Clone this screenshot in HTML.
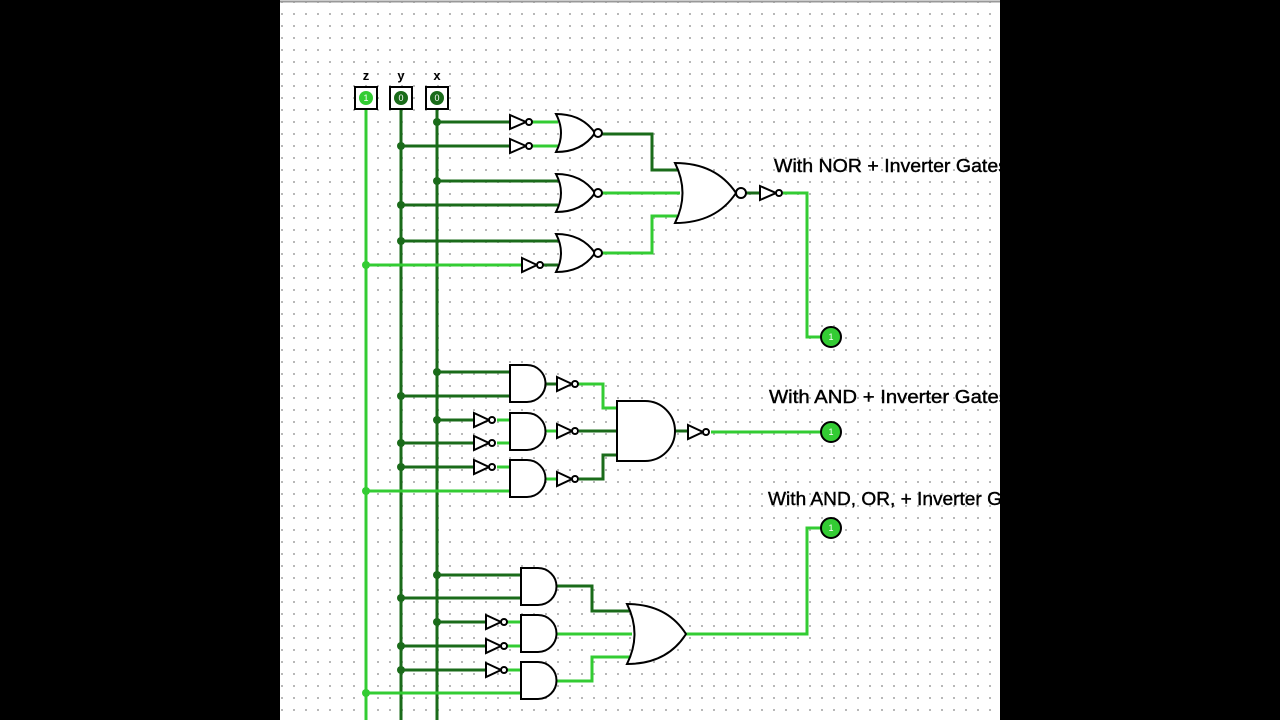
<!DOCTYPE html>
<html><head><meta charset="utf-8"><style>
html,body{margin:0;padding:0;background:#000;width:1280px;height:720px;overflow:hidden}
svg{display:block}
text{font-family:"Liberation Sans",sans-serif}
</style></head><body>
<svg width="1280" height="720" viewBox="0 0 1280 720" xmlns="http://www.w3.org/2000/svg">
<defs>
<pattern id="g" x="288" y="8" width="12" height="12" patternUnits="userSpaceOnUse">
<rect x="5" y="5" width="2" height="2" fill="#b8b8b8"/>
</pattern>
<clipPath id="c"><rect x="280" y="0" width="720" height="720"/></clipPath>
</defs>
<rect x="0" y="0" width="1280" height="720" fill="#000"/>
<rect x="280" y="0" width="720" height="720" fill="#fff"/>
<rect x="280" y="0" width="720" height="720" fill="url(#g)"/>
<line x1="280" y1="1.5" x2="1000" y2="1.5" stroke="#999" stroke-width="2"/>
<g clip-path="url(#c)">
<g fill="none" stroke-width="3" stroke-linejoin="miter">
<line x1="366" y1="109" x2="366" y2="720" stroke="#3c3"/>
<line x1="401" y1="109" x2="401" y2="720" stroke="#1a6b1a"/>
<line x1="437" y1="109" x2="437" y2="720" stroke="#1a6b1a"/>
<g stroke="#1a6b1a">
<path d="M437 122H510 M401 146H510 M437 181H558 M401 205H558 M401 241H558 M540 265H558"/>
<path d="M601 134H652V170H680"/>
<path d="M744 193H760"/>
<path d="M437 372H512 M401 396H512 M437 420H474 M401 443H474 M401 467H474"/>
<path d="M545 384H557 M579 431H618 M579 479H603V455H618 M675 431H688"/>
<path d="M437 575H523 M401 598H523 M437 622H486 M401 646H486 M401 670H486"/>
<path d="M556 586H592V611H632"/>
</g>
<g stroke="#3c3">
<path d="M532 122H558 M532 146H558 M601 193H680 M601 253H652V216H680 M366 265H522"/>
<path d="M783 193H807V337H820"/>
<path d="M578 384H603V408H618 M545 431H557 M545 479H557 M497 420H512 M497 443H512 M497 467H512 M366 491H512"/>
<path d="M711 432H820"/>
<path d="M507 622H523 M507 646H523 M507 670H523 M366 693H523 M556 634H632 M556 681H592V657H632"/>
<path d="M686 634H807V528H820"/>
</g>
</g>
<g fill="#1a6b1a">
<circle cx="437" cy="122" r="4"/><circle cx="401" cy="146" r="4"/><circle cx="437" cy="181" r="4"/><circle cx="401" cy="205" r="4"/><circle cx="401" cy="241" r="4"/>
<circle cx="437" cy="372" r="4"/><circle cx="401" cy="396" r="4"/><circle cx="437" cy="420" r="4"/><circle cx="401" cy="443" r="4"/><circle cx="401" cy="467" r="4"/>
<circle cx="437" cy="575" r="4"/><circle cx="401" cy="598" r="4"/><circle cx="437" cy="622" r="4"/><circle cx="401" cy="646" r="4"/><circle cx="401" cy="670" r="4"/>
</g>
<g fill="#3c3"><circle cx="366" cy="265" r="4"/><circle cx="366" cy="491" r="4"/><circle cx="366" cy="693" r="4"/></g>
<g fill="#fff" stroke="#000" stroke-width="2">
<path d="M556 114Q582 114 595 133Q582 152 556 152Q566 133 556 114Z"/><circle cx="598" cy="133" r="4"/>
<path d="M556 174Q582 174 595 193Q582 212 556 212Q566 193 556 174Z"/><circle cx="598" cy="193" r="4"/>
<path d="M556 234Q582 234 595 253Q582 272 556 272Q566 253 556 234Z"/><circle cx="598" cy="253" r="4"/>
<path d="M675 163Q716 163 736 193Q716 223 675 223Q690 193 675 163Z"/><circle cx="741" cy="193" r="5"/>
<path d="M510 115L526 122L510 129Z"/><circle cx="529" cy="122" r="3"/>
<path d="M510 139L526 146L510 153Z"/><circle cx="529" cy="146" r="3"/>
<path d="M522 258L537 265L522 272Z"/><circle cx="540" cy="265" r="3"/>
<path d="M760 186L776 193L760 200Z"/><circle cx="779" cy="193" r="3"/>
<path d="M510 365H527A18.5 18.5 0 0 1 527 402H510Z"/>
<path d="M510 413H527A18.5 18.5 0 0 1 527 450H510Z"/>
<path d="M510 460H527A18.5 18.5 0 0 1 527 497H510Z"/>
<path d="M617 401H645A30 30 0 0 1 645 461H617Z"/>
<path d="M557 377L572 384L557 391Z"/><circle cx="575" cy="384" r="3"/>
<path d="M557 424L572 431L557 438Z"/><circle cx="575" cy="431" r="3"/>
<path d="M557 472L572 479L557 486Z"/><circle cx="575" cy="479" r="3"/>
<path d="M474 413L489 420L474 427Z"/><circle cx="492" cy="420" r="3"/>
<path d="M474 436L489 443L474 450Z"/><circle cx="492" cy="443" r="3"/>
<path d="M474 460L489 467L474 474Z"/><circle cx="492" cy="467" r="3"/>
<path d="M688 425L703 432L688 439Z"/><circle cx="706" cy="432" r="3"/>
<path d="M521 568H538A18.5 18.5 0 0 1 538 605H521Z"/>
<path d="M521 615H538A18.5 18.5 0 0 1 538 652H521Z"/>
<path d="M521 662H538A18.5 18.5 0 0 1 538 699H521Z"/>
<path d="M627 604Q667 604 686 634Q667 664 627 664Q642 634 627 604Z"/>
<path d="M486 615L501 622L486 629Z"/><circle cx="504" cy="622" r="3"/>
<path d="M486 639L501 646L486 653Z"/><circle cx="504" cy="646" r="3"/>
<path d="M486 663L501 670L486 677Z"/><circle cx="504" cy="670" r="3"/>
</g>
<g stroke="#000" stroke-width="2" fill="#fff">
<rect x="355" y="87" width="22" height="22"/><rect x="390" y="87" width="22" height="22"/><rect x="426" y="87" width="22" height="22"/>
</g>
<circle cx="366" cy="98" r="7" fill="#3c3"/>
<circle cx="401" cy="98" r="7" fill="#1a6b1a"/>
<circle cx="437" cy="98" r="7" fill="#1a6b1a"/>
<g font-size="9" text-anchor="middle" fill="#fff"><text x="366" y="101">1</text><text x="401" y="101">0</text><text x="437" y="101">0</text></g>
<g font-size="13" font-weight="bold" text-anchor="middle" fill="#000"><text x="366" y="80">z</text><text x="401" y="80">y</text><text x="437" y="80">x</text></g>
<g stroke="#000" stroke-width="2" fill="#3c3">
<circle cx="831" cy="337" r="10"/><circle cx="831" cy="432" r="10"/><circle cx="831" cy="528" r="10"/>
</g>
<g font-size="9" text-anchor="middle" fill="#fff"><text x="831" y="340">1</text><text x="831" y="435">1</text><text x="831" y="531">1</text></g>
<g font-size="18" fill="#000" stroke="#000" stroke-width="0.4">
<text x="774" y="172" textLength="234" lengthAdjust="spacingAndGlyphs">With NOR + Inverter Gates</text>
<text x="769" y="403" textLength="240" lengthAdjust="spacingAndGlyphs">With AND + Inverter Gates</text>
<text x="768" y="505" textLength="270" lengthAdjust="spacingAndGlyphs">With AND, OR, + Inverter Gates</text>
</g>
</g>
</svg>
</body></html>
